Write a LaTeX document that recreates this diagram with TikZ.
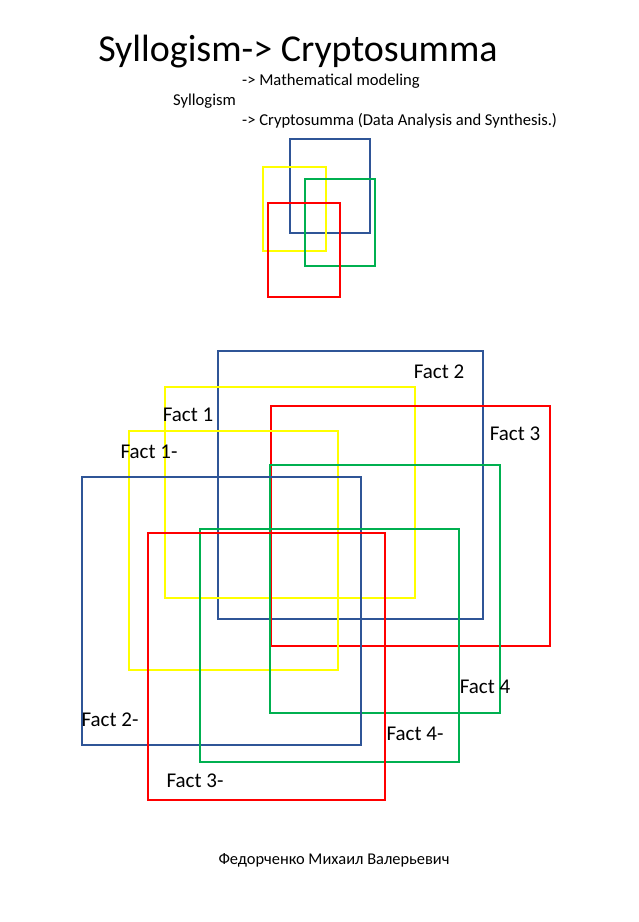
\documentclass[tikz,border=0pt]{standalone}
\usepackage{fontspec}
\setmainfont{Carlito}
\definecolor{cblue}{HTML}{2F5597}
\definecolor{cyel}{HTML}{FFFF00}
\definecolor{cgreen}{HTML}{00B050}
\definecolor{cred}{HTML}{FF0000}
\begin{document}
\begin{tikzpicture}[x=1pt,y=-1pt,
  box/.style={line width=2pt},
  lab/.style={font=\fontsize{21}{24}\selectfont,inner sep=0pt},
  sm/.style={font=\fontsize{16.6}{19}\selectfont,inner sep=0pt}]
\useasboundingbox[fill=white] (0,0) rectangle (638,922);
\node[font=\fontsize{38}{42}\selectfont,inner sep=0pt] (title) at (298,52) {Syllogism-> Cryptosumma};
\node[sm,anchor=west] (l1) at (242,81) {-> Mathematical modeling};
\node[sm,anchor=west] (l2) at (173,101) {Syllogism};
\node[sm,anchor=west] (l3) at (242,121) {-> Cryptosumma (Data Analysis and Synthesis.)};
% small
\draw[box,cblue] (290,139) rectangle (370,233);
\draw[box,cyel] (263,167) rectangle (326,251);
\draw[box,cgreen] (305,179) rectangle (375,266);
\draw[box,cred] (268,203) rectangle (340,297);
% big
\draw[box,cblue] (218,351) rectangle (483,619);
\draw[box,cyel] (165,387) rectangle (415,598);
\draw[box,cred] (271,406) rectangle (550,646);
\draw[box,cyel] (129,431) rectangle (338,670);
\draw[box,cgreen] (270,465) rectangle (500,713);
\draw[box,cblue] (82,477) rectangle (361,745);
\draw[box,cgreen] (200,529) rectangle (459,762);
\draw[box,cred] (148,533) rectangle (385,800);
\node[lab] (f2) at (439,372) {Fact 2};
\node[lab] (f1) at (188,415) {Fact 1};
\node[lab] (f3) at (515,434) {Fact 3};
\node[lab] (f1m) at (149,452) {Fact 1-};
\node[lab] (f4) at (485,687) {Fact 4};
\node[lab] (f2m) at (110,720) {Fact 2-};
\node[lab] (f4m) at (415,734) {Fact 4-};
\node[lab] (f3m) at (195,781) {Fact 3-};
\node[font=\fontsize{16.4}{19}\selectfont,inner sep=0pt] (foot) at (334,860) {Федорченко Михаил Валерьевич};
\end{tikzpicture}
\end{document}
